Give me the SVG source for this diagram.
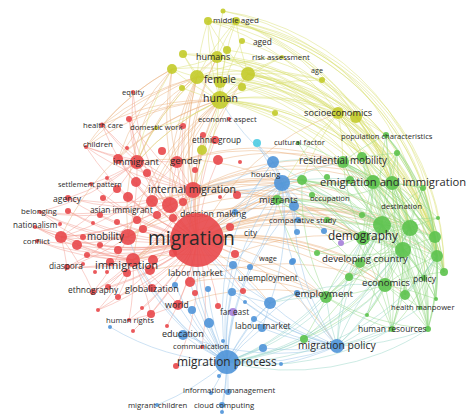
<svg xmlns="http://www.w3.org/2000/svg" width="474" height="414" viewBox="0 0 474 414">
<style>
#connectors path{fill:none;stroke-width:.85;stroke-opacity:.55}
.er path{stroke:#f29a8e}
.eo path{stroke:#eab07c}
.ey path{stroke:#d9df6e}
.eg path{stroke:#94d884}
.eb path{stroke:#92c0e8}
.et path{stroke:#93d4c4}
.nr{fill:#e8474a;fill-opacity:.9}
.ny{fill:#c3cb2a;fill-opacity:.9}
.ng{fill:#5cc24c;fill-opacity:.9}
.nb{fill:#4f94d8;fill-opacity:.9}
.np{fill:#a580da;fill-opacity:.9}
.nc{fill:#4ccbe2;fill-opacity:.9}
text{font-family:"Open Sans","Noto Sans","Liberation Sans",sans-serif;fill:#2a2a2a}
</style>
<rect width="474" height="414" fill="#fff"/>
<g id="connectors">
<g class="er">
<path d="M197 240A250 250 0 0 1 137 162"/><path d="M197 240A250 250 0 0 1 177 162"/><path d="M197 240A250 250 0 0 1 193 190"/><path d="M197 240A250 250 0 0 1 133 260"/><path d="M197 240A250 250 0 0 1 170 205"/><path d="M197 240A250 250 0 0 1 152 201"/><path d="M197 240A250 250 0 0 1 128 237"/><path d="M197 240A250 250 0 0 1 61 237"/><path d="M197 240A250 250 0 0 1 77 245"/><path d="M197 240A250 250 0 0 1 118 159"/><path d="M197 240A250 250 0 0 1 218 160"/><path d="M197 240A250 250 0 0 1 147 173"/><path d="M197 240A250 250 0 0 1 136 182"/><path d="M197 240A250 250 0 0 1 128 197"/><path d="M197 240A250 250 0 0 1 103 198"/><path d="M197 240A250 250 0 0 1 68 211"/><path d="M197 240A250 250 0 0 1 100 215"/><path d="M197 240A250 250 0 0 1 137 220"/><path d="M197 240A250 250 0 0 1 143 229"/><path d="M197 240A250 250 0 0 1 100 245"/><path d="M197 240A250 250 0 0 1 118 250"/><path d="M197 240A250 250 0 0 1 87 255"/><path d="M197 240A250 250 0 0 1 67 267"/><path d="M197 240A250 250 0 0 1 110 262"/><path d="M197 240A250 250 0 0 1 127 273"/><path d="M197 240A250 250 0 0 1 150 270"/><path d="M197 240A250 250 0 0 1 93 292"/><path d="M197 240A250 250 0 0 1 108 287"/><path d="M197 240A250 250 0 0 1 152 288"/><path d="M197 240A250 250 0 0 1 190 282"/><path d="M197 240A250 250 0 0 1 178 305"/><path d="M197 240A250 250 0 0 1 151 314"/><path d="M197 240A250 250 0 0 1 98 310"/><path d="M197 240A250 250 0 0 1 129 320"/><path d="M197 240A250 250 0 0 1 133 92"/><path d="M197 240A250 250 0 0 1 129 119"/><path d="M197 240A250 250 0 0 1 102 125"/><path d="M197 240A250 250 0 0 1 86 147"/><path d="M197 240A250 250 0 0 1 40 212"/><path d="M197 240A250 250 0 0 1 35 227"/><path d="M197 240A250 250 0 0 1 37 241"/><path d="M197 240A250 250 0 0 1 68 198"/><path d="M197 240A250 250 0 0 1 91 184"/><path d="M197 240A250 250 0 0 1 107 178"/><path d="M197 240A250 250 0 0 1 183 126"/><path d="M197 240A250 250 0 0 1 203 135"/><path d="M197 240A250 250 0 0 1 215 140"/><path d="M197 240A250 250 0 0 1 118 297"/><path d="M197 240A250 250 0 0 1 142 308"/><path d="M197 240A250 250 0 0 1 167 326"/><path d="M197 240A250 250 0 0 1 133 331"/><path d="M197 240A250 250 0 0 1 218 306"/><path d="M197 240A250 250 0 0 1 243 291"/><path d="M197 240A250 250 0 0 1 235 254"/><path d="M197 240A250 250 0 0 1 176 366"/><path d="M197 240A250 250 0 0 1 202 347"/>
<path d="M193 190A250 250 0 0 1 137 162"/><path d="M193 190A250 250 0 0 1 177 162"/><path d="M193 190A250 250 0 0 1 118 159"/><path d="M193 190A250 250 0 0 1 61 237"/><path d="M193 190A250 250 0 0 1 128 237"/><path d="M193 190A250 250 0 0 1 133 260"/><path d="M193 190A250 250 0 0 1 86 147"/><path d="M193 190A250 250 0 0 1 68 198"/><path d="M193 190A250 250 0 0 1 102 125"/><path d="M193 190A250 250 0 0 1 129 119"/><path d="M193 190A250 250 0 0 1 40 212"/><path d="M193 190A250 250 0 0 1 150 270"/><path d="M193 190A250 250 0 0 1 93 292"/>
<path d="M133 260A250 250 0 0 1 61 237"/><path d="M133 260A250 250 0 0 1 67 267"/><path d="M133 260A250 250 0 0 1 93 292"/><path d="M133 260A250 250 0 0 1 108 287"/><path d="M133 260A250 250 0 0 1 152 288"/><path d="M133 260A250 250 0 0 1 178 305"/><path d="M133 260A250 250 0 0 1 151 314"/><path d="M133 260A250 250 0 0 1 98 310"/><path d="M133 260A250 250 0 0 1 129 320"/><path d="M133 260A250 250 0 0 1 40 212"/><path d="M133 260A250 250 0 0 1 87 255"/><path d="M133 260A250 250 0 0 1 77 245"/><path d="M133 260A250 250 0 0 1 118 297"/><path d="M133 260A250 250 0 0 1 35 227"/><path d="M133 260A250 250 0 0 1 37 241"/>
<path d="M137 162A250 250 0 0 1 86 147"/><path d="M137 162A250 250 0 0 1 102 125"/><path d="M137 162A250 250 0 0 1 129 119"/><path d="M137 162A250 250 0 0 1 133 92"/><path d="M137 162A250 250 0 0 1 91 184"/><path d="M137 162A250 250 0 0 1 61 237"/><path d="M137 162A250 250 0 0 1 68 198"/><path d="M137 162A250 250 0 0 1 40 212"/><path d="M137 162A250 250 0 0 1 128 237"/>
<path d="M128 237A250 250 0 0 1 61 237"/><path d="M128 237A250 250 0 0 1 37 241"/><path d="M128 237A250 250 0 0 1 35 227"/><path d="M128 237A250 250 0 0 1 68 211"/><path d="M128 237A250 250 0 0 1 67 267"/><path d="M128 237A250 250 0 0 1 40 212"/><path d="M128 237A250 250 0 0 1 93 292"/>
<path d="M170 205A250 250 0 0 1 61 237"/><path d="M170 205A250 250 0 0 1 118 159"/><path d="M170 205A250 250 0 0 1 137 162"/><path d="M170 205A250 250 0 0 1 177 162"/><path d="M170 205A250 250 0 0 1 68 198"/>
<path d="M61 237A250 250 0 0 1 35 227"/><path d="M61 237A250 250 0 0 1 67 267"/><path d="M61 237A250 250 0 0 1 93 292"/><path d="M177 162A250 250 0 0 1 86 147"/><path d="M177 162A250 250 0 0 1 61 237"/><path d="M152 201A250 250 0 0 1 40 212"/><path d="M152 201A250 250 0 0 1 67 267"/><path d="M150 270A250 250 0 0 1 98 310"/><path d="M178 305A250 250 0 0 1 129 320"/>
</g>
<g class="eo">
<path d="M197 240A250 250 0 0 1 282 183"/><path d="M197 240A250 250 0 0 1 277 200"/><path d="M197 240A250 250 0 0 1 363 238"/><path d="M197 240A250 250 0 0 1 382 225"/><path d="M197 240A250 250 0 0 1 302 180"/><path d="M197 240A250 250 0 0 1 373 182"/><path d="M197 240A250 250 0 0 1 343 162"/><path d="M197 240A250 250 0 0 1 326 297"/><path d="M197 240A250 250 0 0 1 385 285"/><path d="M197 240A250 250 0 0 1 403 250"/><path d="M197 240A250 250 0 0 1 337 346"/><path d="M197 240A250 250 0 0 1 270 303"/><path d="M197 240A250 250 0 0 1 360 263"/><path d="M197 240A250 250 0 0 1 410 228"/><path d="M197 240A250 250 0 0 1 392 183"/><path d="M197 240A250 250 0 0 1 338 113"/><path d="M197 240A250 250 0 0 1 435 237"/><path d="M197 240A250 250 0 0 1 437 256"/><path d="M197 240A250 250 0 0 1 405 295"/><path d="M197 240A250 250 0 0 1 349 277"/><path d="M197 240A250 250 0 0 1 317 253"/><path d="M197 240A250 250 0 0 1 327 220"/><path d="M197 240A250 250 0 0 1 362 215"/>
<path d="M193 190A250 250 0 0 1 282 183"/><path d="M193 190A250 250 0 0 1 302 180"/><path d="M193 190A250 250 0 0 1 343 162"/><path d="M193 190A250 250 0 0 1 373 182"/><path d="M193 190A250 250 0 0 1 382 225"/><path d="M193 190A250 250 0 0 1 363 238"/><path d="M193 190A250 250 0 0 1 392 183"/><path d="M193 190A250 250 0 0 1 277 200"/><path d="M193 190A250 250 0 0 1 410 228"/>
<path d="M133 260A250 250 0 0 1 277 200"/><path d="M133 260A250 250 0 0 1 363 238"/><path d="M133 260A250 250 0 0 1 326 297"/><path d="M133 260A250 250 0 0 1 382 225"/><path d="M133 260A250 250 0 0 1 385 285"/><path d="M128 237A250 250 0 0 1 282 183"/><path d="M128 237A250 250 0 0 1 363 238"/><path d="M128 237A250 250 0 0 1 382 225"/><path d="M170 205A250 250 0 0 1 382 225"/><path d="M170 205A250 250 0 0 1 302 180"/><path d="M152 201A250 250 0 0 1 363 238"/><path d="M137 162A250 250 0 0 1 282 183"/><path d="M177 162A250 250 0 0 1 373 182"/><path d="M177 162A250 250 0 0 1 343 162"/><path d="M150 270A250 250 0 0 1 326 297"/><path d="M190 282A250 250 0 0 1 326 297"/><path d="M190 282A250 250 0 0 1 385 285"/><path d="M178 305A250 250 0 0 1 326 297"/><path d="M235 254A250 250 0 0 1 363 238"/><path d="M218 160A250 250 0 0 1 343 162"/>
<path d="M197 240A250 250 0 0 1 220 100"/><path d="M197 240A250 250 0 0 1 197 77"/><path d="M197 240A250 250 0 0 1 248 74"/><path d="M197 240A250 250 0 0 1 217 57"/><path d="M197 240A250 250 0 0 1 172 69"/><path d="M197 240A250 250 0 0 1 202 150"/><path d="M193 190A250 250 0 0 1 220 100"/><path d="M193 190A250 250 0 0 1 197 77"/><path d="M193 190A250 250 0 0 1 217 57"/><path d="M137 162A250 250 0 0 1 220 100"/><path d="M137 162A250 250 0 0 1 197 77"/><path d="M61 237A250 250 0 0 1 220 100"/><path d="M172 69A250 250 0 0 0 128 237"/><path d="M128 119A250 250 0 0 1 197 77"/>
<path d="M220 100A250 250 0 0 0 177 162"/><path d="M220 100A250 250 0 0 0 118 159"/><path d="M220 100A250 250 0 0 0 128 237"/><path d="M220 100A250 250 0 0 0 170 205"/><path d="M220 100A250 250 0 0 0 152 201"/><path d="M220 100A250 250 0 0 0 133 260"/><path d="M220 100A250 250 0 0 0 86 147"/><path d="M220 100A250 250 0 0 0 129 119"/><path d="M220 100A250 250 0 0 0 102 125"/><path d="M197 77A250 250 0 0 0 177 162"/><path d="M197 77A250 250 0 0 0 118 159"/><path d="M197 77A250 250 0 0 0 170 205"/><path d="M197 77A250 250 0 0 0 193 190"/><path d="M197 77A250 250 0 0 0 86 147"/><path d="M197 77A250 250 0 0 0 102 125"/><path d="M172 69A250 250 0 0 0 118 159"/><path d="M172 69A250 250 0 0 0 86 147"/><path d="M172 69A250 250 0 0 0 102 125"/><path d="M172 69A250 250 0 0 0 177 162"/><path d="M217 57A250 250 0 0 0 137 162"/><path d="M248 74A250 250 0 0 0 193 190"/>
</g>
<g class="ey">
<path d="M220 100A250 250 0 0 1 197 77"/><path d="M220 100A250 250 0 0 1 217 57"/><path d="M220 100A250 250 0 0 1 220 82"/><path d="M220 100A250 250 0 0 1 248 74"/><path d="M220 100A250 250 0 0 1 242 87"/><path d="M220 100A250 250 0 0 1 172 69"/><path d="M220 100A250 250 0 0 1 183 54"/><path d="M220 100A250 250 0 0 1 182 88"/><path d="M220 100A250 250 0 0 1 208 21"/><path d="M220 100A250 250 0 0 1 236 21"/><path d="M220 100A250 250 0 0 1 223 11"/><path d="M220 100A250 250 0 0 1 227 50"/><path d="M220 100A250 250 0 0 1 242 41"/><path d="M220 100A250 250 0 0 1 282 57"/><path d="M220 100A250 250 0 0 1 322 80"/><path d="M220 100A250 250 0 0 1 275 113"/><path d="M220 100A250 250 0 0 1 338 113"/><path d="M220 100A250 250 0 0 1 356 117"/><path d="M220 100A250 250 0 0 1 202 150"/><path d="M220 100A250 250 0 0 1 156 128"/><path d="M220 100A250 250 0 0 0 137 162"/><path d="M220 100A250 250 0 0 1 193 190"/>
<path d="M220 100A250 250 0 0 1 373 182"/><path d="M220 100A250 250 0 0 1 392 183"/><path d="M220 100A250 250 0 0 1 382 225"/><path d="M220 100A250 250 0 0 1 343 162"/><path d="M220 100A250 250 0 0 1 410 228"/><path d="M220 100A250 250 0 0 1 435 237"/><path d="M220 100A250 250 0 0 1 437 256"/>
<path d="M197 77A250 250 0 0 1 208 21"/><path d="M197 77A250 250 0 0 1 236 21"/><path d="M197 77A250 250 0 0 1 172 69"/><path d="M197 77A250 250 0 0 1 183 54"/><path d="M197 77A250 250 0 0 1 338 113"/><path d="M197 77A250 250 0 0 1 322 80"/><path d="M197 77A250 250 0 0 1 282 57"/><path d="M197 77A250 250 0 0 1 392 183"/><path d="M197 77A250 250 0 0 1 410 228"/><path d="M197 77A250 250 0 0 1 435 237"/><path d="M197 77A250 250 0 0 1 437 256"/><path d="M197 77A250 250 0 0 0 137 162"/><path d="M197 77A250 250 0 0 1 248 74"/><path d="M197 77A250 250 0 0 1 217 57"/><path d="M197 77A250 250 0 0 1 444 272"/>
<path d="M248 74A250 250 0 0 1 208 21"/><path d="M248 74A250 250 0 0 1 236 21"/><path d="M248 74A250 250 0 0 1 338 113"/><path d="M248 74A250 250 0 0 1 356 117"/><path d="M248 74A250 250 0 0 1 373 182"/><path d="M248 74A250 250 0 0 1 435 237"/><path d="M248 74A250 250 0 0 1 444 272"/><path d="M248 74A250 250 0 0 1 386 135"/><path d="M248 74A250 250 0 0 1 322 80"/><path d="M248 74A250 250 0 0 1 282 57"/><path d="M248 74A250 250 0 0 1 437 256"/>
<path d="M217 57A250 250 0 0 1 338 113"/><path d="M217 57A250 250 0 0 1 392 183"/><path d="M217 57A250 250 0 0 1 403 250"/><path d="M217 57A250 250 0 0 1 172 69"/><path d="M217 57A250 250 0 0 1 236 21"/><path d="M217 57A250 250 0 0 1 208 21"/><path d="M217 57A250 250 0 0 1 356 117"/><path d="M217 57A250 250 0 0 1 437 256"/>
<path d="M208 21A250 250 0 0 1 437 256"/><path d="M208 21A250 250 0 0 1 444 272"/><path d="M208 21A250 250 0 0 1 338 113"/><path d="M208 21A250 250 0 0 1 410 228"/><path d="M208 21A250 250 0 0 1 435 237"/><path d="M236 21A250 250 0 0 1 435 237"/><path d="M236 21A250 250 0 0 1 356 117"/><path d="M236 21A250 250 0 0 1 392 183"/><path d="M236 21A250 250 0 0 1 322 80"/><path d="M236 21A250 250 0 0 1 444 272"/><path d="M223 11A250 250 0 0 1 424 278"/><path d="M223 11A250 250 0 0 1 437 256"/><path d="M183 54A250 250 0 0 1 403 250"/><path d="M183 54A250 250 0 0 1 437 256"/><path d="M172 69A250 250 0 0 1 435 237"/><path d="M227 50A250 250 0 0 1 444 272"/><path d="M242 41A250 250 0 0 1 410 228"/><path d="M220 82A250 250 0 0 1 410 228"/><path d="M242 87A250 250 0 0 1 403 250"/>
<path d="M338 113A250 250 0 0 1 392 183"/><path d="M338 113A250 250 0 0 1 373 182"/><path d="M338 113A250 250 0 0 1 343 162"/><path d="M338 113A250 250 0 0 1 382 225"/><path d="M338 113A250 250 0 0 1 410 228"/><path d="M338 113A250 250 0 0 1 437 256"/><path d="M338 113A250 250 0 0 1 444 272"/><path d="M338 113A250 250 0 0 0 302 180"/><path d="M338 113A250 250 0 0 0 277 200"/>
<path d="M356 117A250 250 0 0 1 392 183"/><path d="M356 117A250 250 0 0 1 410 228"/><path d="M356 117A250 250 0 0 1 435 237"/><path d="M356 117A250 250 0 0 1 403 250"/><path d="M356 117A250 250 0 0 1 386 135"/>
<path d="M322 80A250 250 0 0 1 410 228"/><path d="M322 80A250 250 0 0 1 437 256"/><path d="M322 80A250 250 0 0 1 392 183"/><path d="M172 69A250 250 0 0 0 137 162"/>
</g>
<g class="eg">
<path d="M382 225A250 250 0 0 1 410 228"/><path d="M382 225A250 250 0 0 1 403 250"/><path d="M382 225A250 250 0 0 1 363 238"/><path d="M382 225A250 250 0 0 1 435 237"/><path d="M382 225A250 250 0 0 1 437 256"/><path d="M382 225A250 250 0 0 1 373 182"/><path d="M382 225A250 250 0 0 1 392 183"/><path d="M382 225A250 250 0 0 1 343 162"/><path d="M382 225A250 250 0 0 1 362 157"/><path d="M382 225A250 250 0 0 1 302 180"/><path d="M382 225A250 250 0 0 1 277 200"/><path d="M382 225A250 250 0 0 1 360 263"/><path d="M382 225A250 250 0 0 1 385 285"/><path d="M382 225A250 250 0 0 1 326 297"/><path d="M382 225A250 250 0 0 1 405 295"/><path d="M382 225A250 250 0 0 1 349 277"/><path d="M382 225A250 250 0 0 1 444 272"/><path d="M382 225A250 250 0 0 1 424 278"/><path d="M382 225A250 250 0 0 1 397 153"/><path d="M382 225A250 250 0 0 1 386 135"/><path d="M382 225A250 250 0 0 1 327 177"/><path d="M382 225A250 250 0 0 1 350 180"/><path d="M382 225A250 250 0 0 1 423 188"/><path d="M382 225A250 250 0 0 1 312 195"/><path d="M382 225A250 250 0 0 1 362 215"/><path d="M382 225A250 250 0 0 1 438 218"/><path d="M382 225A250 250 0 0 1 327 220"/><path d="M382 225A250 250 0 0 1 317 253"/><path d="M382 225A250 250 0 0 1 298 143"/><path d="M382 225A250 250 0 0 1 436 299"/><path d="M382 225A250 250 0 0 1 420 308"/><path d="M382 225A250 250 0 0 1 367 315"/><path d="M382 225A250 250 0 0 1 392 329"/><path d="M382 225A250 250 0 0 1 428 329"/><path d="M382 225A250 250 0 0 1 304 339"/>
<path d="M392 183A250 250 0 0 1 343 162"/><path d="M392 183A250 250 0 0 1 373 182"/><path d="M392 183A250 250 0 0 1 410 228"/><path d="M392 183A250 250 0 0 1 435 237"/><path d="M392 183A250 250 0 0 1 437 256"/><path d="M392 183A250 250 0 0 1 403 250"/><path d="M392 183A250 250 0 0 1 385 285"/><path d="M392 183A250 250 0 0 1 444 272"/><path d="M392 183A250 250 0 0 1 302 180"/><path d="M392 183A250 250 0 0 1 277 200"/><path d="M392 183A250 250 0 0 1 423 188"/><path d="M392 183A250 250 0 0 1 397 153"/><path d="M392 183A250 250 0 0 1 386 135"/><path d="M392 183A250 250 0 0 1 428 329"/><path d="M392 183A250 250 0 0 1 392 329"/><path d="M392 183A250 250 0 0 1 362 157"/><path d="M392 183A250 250 0 0 1 438 218"/>
<path d="M385 285A250 250 0 0 1 392 329"/><path d="M385 285A250 250 0 0 1 428 329"/><path d="M385 285A250 250 0 0 1 420 308"/><path d="M385 285A250 250 0 0 1 436 299"/><path d="M385 285A250 250 0 0 1 444 272"/><path d="M385 285A250 250 0 0 1 326 297"/><path d="M385 285A250 250 0 0 1 304 339"/><path d="M385 285A250 250 0 0 1 367 315"/><path d="M385 285A250 250 0 0 1 410 228"/><path d="M385 285A250 250 0 0 1 437 256"/><path d="M385 285A250 250 0 0 1 363 238"/><path d="M385 285A250 250 0 0 1 403 250"/><path d="M385 285A250 250 0 0 1 349 277"/>
<path d="M326 297A250 250 0 0 1 304 339"/><path d="M392 329A250 250 0 0 1 326 297"/><path d="M428 329A250 250 0 0 1 326 297"/><path d="M326 297A250 250 0 0 1 277 200"/><path d="M326 297A250 250 0 0 1 302 180"/><path d="M326 297A250 250 0 0 1 363 238"/><path d="M326 297A250 250 0 0 1 403 250"/><path d="M326 297A250 250 0 0 1 349 277"/>
<path d="M363 238A250 250 0 0 1 302 180"/><path d="M363 238A250 250 0 0 1 343 162"/><path d="M363 238A250 250 0 0 1 373 182"/><path d="M363 238A250 250 0 0 1 403 250"/><path d="M363 238A250 250 0 0 1 437 256"/><path d="M363 238A250 250 0 0 1 410 228"/><path d="M363 238A250 250 0 0 1 428 329"/><path d="M363 238A250 250 0 0 1 277 200"/>
<path d="M343 162A250 250 0 0 1 410 228"/><path d="M343 162A250 250 0 0 1 435 237"/><path d="M343 162A250 250 0 0 1 437 256"/><path d="M343 162A250 250 0 0 1 403 250"/><path d="M343 162A220 220 0 0 1 428 329"/><path d="M343 162A250 250 0 0 1 386 135"/><path d="M343 162A250 250 0 0 1 397 153"/>
<path d="M302 180A250 250 0 0 1 437 256"/><path d="M302 180A220 220 0 0 1 428 329"/><path d="M302 180A250 250 0 0 1 392 329"/><path d="M302 180A250 250 0 0 1 410 228"/><path d="M386 135A200 200 0 0 1 428 329"/><path d="M386 135A250 250 0 0 1 444 272"/><path d="M386 135A250 250 0 0 1 437 256"/><path d="M277 200A250 250 0 0 1 403 250"/><path d="M277 200A250 250 0 0 1 410 228"/><path d="M277 200A250 250 0 0 1 437 256"/><path d="M277 200A250 250 0 0 1 392 329"/><path d="M298 143A200 200 0 0 1 436 299"/><path d="M327 177A200 200 0 0 1 420 308"/>
<path d="M410 228A250 250 0 0 1 373 182"/><path d="M410 228A250 250 0 0 1 343 162"/><path d="M410 228A250 250 0 0 1 302 180"/><path d="M410 228A250 250 0 0 1 435 237"/><path d="M410 228A250 250 0 0 1 437 256"/><path d="M410 228A250 250 0 0 1 444 272"/><path d="M410 228A250 250 0 0 1 405 295"/><path d="M410 228A250 250 0 0 1 360 263"/><path d="M410 228A250 250 0 0 1 349 277"/><path d="M410 228A250 250 0 0 1 326 297"/><path d="M410 228A250 250 0 0 1 423 188"/><path d="M410 228A250 250 0 0 1 438 218"/><path d="M410 228A250 250 0 0 1 397 153"/><path d="M410 228A250 250 0 0 1 386 135"/><path d="M410 228A250 250 0 0 1 362 157"/><path d="M410 228A250 250 0 0 1 420 308"/><path d="M410 228A250 250 0 0 1 436 299"/><path d="M410 228A250 250 0 0 1 428 329"/><path d="M410 228A250 250 0 0 1 392 329"/><path d="M410 228A250 250 0 0 1 304 339"/>
<path d="M403 250A250 250 0 0 1 373 182"/><path d="M403 250A250 250 0 0 1 343 162"/><path d="M403 250A250 250 0 0 1 302 180"/><path d="M403 250A250 250 0 0 1 435 237"/><path d="M403 250A250 250 0 0 1 444 272"/><path d="M403 250A250 250 0 0 1 405 295"/><path d="M403 250A250 250 0 0 1 424 278"/><path d="M403 250A250 250 0 0 1 360 263"/><path d="M403 250A250 250 0 0 1 349 277"/><path d="M403 250A250 250 0 0 1 423 188"/><path d="M403 250A250 250 0 0 1 392 183"/><path d="M403 250A250 250 0 0 1 362 157"/><path d="M403 250A250 250 0 0 1 436 299"/><path d="M403 250A250 250 0 0 1 420 308"/><path d="M403 250A250 250 0 0 1 428 329"/><path d="M403 250A250 250 0 0 1 392 329"/><path d="M403 250A250 250 0 0 1 367 315"/><path d="M403 250A250 250 0 0 1 317 253"/><path d="M403 250A250 250 0 0 1 327 220"/>
<path d="M373 182A250 250 0 0 1 435 237"/><path d="M343 162A250 250 0 0 1 435 237"/><path d="M435 237A250 250 0 0 1 437 256"/><path d="M435 237A250 250 0 0 1 444 272"/><path d="M435 237A250 250 0 0 1 405 295"/><path d="M435 237A250 250 0 0 1 424 278"/><path d="M423 188A250 250 0 0 1 435 237"/><path d="M386 135A250 250 0 0 1 435 237"/><path d="M397 153A250 250 0 0 1 435 237"/><path d="M435 237A250 250 0 0 1 436 299"/><path d="M435 237A250 250 0 0 1 428 329"/><path d="M362 157A250 250 0 0 1 435 237"/>
<path d="M373 182A250 250 0 0 1 437 256"/><path d="M437 256A250 250 0 0 1 405 295"/><path d="M437 256A250 250 0 0 1 424 278"/><path d="M437 256A250 250 0 0 1 436 299"/><path d="M437 256A250 250 0 0 1 428 329"/><path d="M437 256A250 250 0 0 1 420 308"/><path d="M437 256A250 250 0 0 1 392 329"/><path d="M423 188A250 250 0 0 1 437 256"/>
<path d="M373 182A250 250 0 0 1 343 162"/><path d="M373 182A250 250 0 0 1 302 180"/><path d="M373 182A250 250 0 0 1 362 157"/><path d="M373 182A250 250 0 0 1 397 153"/><path d="M373 182A250 250 0 0 1 423 188"/><path d="M373 182A250 250 0 0 1 444 272"/><path d="M373 182A250 250 0 0 1 405 295"/><path d="M373 182A250 250 0 0 1 360 263"/><path d="M373 182A250 250 0 0 1 349 277"/><path d="M373 182A220 220 0 0 1 428 329"/>
</g>
<g class="eb">
<path d="M227 362A250 250 0 0 1 183 335"/><path d="M227 362A250 250 0 0 1 209 323"/><path d="M227 362A250 250 0 0 1 192 310"/><path d="M227 362A250 250 0 0 1 263 348"/><path d="M227 362A250 250 0 0 1 262 328"/><path d="M227 362A250 250 0 0 1 254 319"/><path d="M227 362A250 250 0 0 1 219 376"/><path d="M227 362A250 250 0 0 1 211 393"/><path d="M227 362A250 250 0 0 1 228 392"/><path d="M227 362A250 250 0 0 1 157 405"/><path d="M227 362A250 250 0 0 1 222 405"/><path d="M227 362A250 250 0 0 1 222 412"/><path d="M227 362A250 250 0 0 1 281 364"/><path d="M337 346A250 250 0 0 1 227 362"/><path d="M227 362A250 250 0 0 1 270 303"/><path d="M227 362A250 250 0 0 1 232 292"/><path d="M227 362A250 250 0 0 1 282 183"/><path d="M227 362A250 250 0 0 1 273 162"/><path d="M227 362A250 250 0 0 1 294 206"/><path d="M227 362A250 250 0 0 1 223 341"/><path d="M227 362A250 250 0 0 1 202 347"/><path d="M227 362A250 250 0 0 1 176 366"/><path d="M227 362A250 250 0 0 1 175 285"/><path d="M227 362A250 250 0 0 1 208 289"/><path d="M227 362A250 250 0 0 1 110 327"/><path d="M227 362A250 250 0 0 1 233 312"/><path d="M227 362A250 250 0 0 1 250 267"/><path d="M227 362A250 250 0 0 1 233 265"/><path d="M227 362A250 250 0 0 1 297 293"/>
<path d="M227 362A250 250 0 0 1 197 240"/><path d="M227 362A250 250 0 0 1 193 190"/><path d="M227 362A250 250 0 0 1 133 260"/><path d="M227 362A250 250 0 0 1 128 237"/><path d="M227 362A250 250 0 0 1 178 305"/><path d="M227 362A250 250 0 0 1 190 282"/><path d="M227 362A250 250 0 0 1 152 288"/>
<path d="M337 346A250 250 0 0 1 270 303"/><path d="M337 346A250 250 0 0 1 263 348"/><path d="M337 346A250 250 0 0 1 262 328"/><path d="M337 346A250 250 0 0 1 281 364"/><path d="M337 346A250 250 0 0 1 297 293"/><path d="M337 346A250 250 0 0 1 282 183"/><path d="M337 346A250 250 0 0 1 294 206"/><path d="M337 346A250 250 0 0 1 232 292"/><path d="M337 346A250 250 0 0 1 183 335"/><path d="M337 346A250 250 0 0 1 254 319"/><path d="M337 346A250 250 0 0 1 245 302"/><path d="M337 346A250 250 0 0 1 197 240"/>
<path d="M282 183A250 250 0 0 1 273 162"/><path d="M282 183A250 250 0 0 1 294 206"/><path d="M282 183A250 250 0 0 1 257 143"/><path d="M282 183A250 250 0 0 1 298 220"/><path d="M282 183A250 250 0 0 1 297 232"/><path d="M282 183A250 250 0 0 1 324 231"/><path d="M282 183A250 250 0 0 1 233 265"/><path d="M282 183A250 250 0 0 1 235 212"/><path d="M282 183A250 250 0 0 1 270 303"/><path d="M282 183A250 250 0 0 1 250 267"/><path d="M282 183A250 250 0 0 1 197 240"/><path d="M282 183A250 250 0 0 1 193 190"/><path d="M282 183A250 250 0 0 1 237 195"/>
<path d="M273 162A250 250 0 0 1 257 143"/><path d="M273 162A250 250 0 0 1 294 206"/><path d="M273 162A250 250 0 0 1 197 240"/><path d="M273 162A250 250 0 0 1 193 190"/><path d="M273 162A250 250 0 0 1 220 100"/>
<path d="M270 303A250 250 0 0 1 233 265"/><path d="M270 303A250 250 0 0 1 232 292"/><path d="M270 303A250 250 0 0 1 254 319"/><path d="M270 303A250 250 0 0 1 262 328"/><path d="M270 303A250 250 0 0 1 297 293"/><path d="M270 303A250 250 0 0 1 197 240"/>
</g>
<g class="et">
<path d="M304 339A250 250 0 0 1 227 362"/><path d="M326 297A250 250 0 0 1 227 362"/><path d="M385 285A250 250 0 0 1 227 362"/><path d="M382 225A250 250 0 0 1 227 362"/><path d="M403 250A250 250 0 0 1 227 362"/><path d="M437 256A250 250 0 0 1 227 362"/><path d="M392 329A250 250 0 0 1 227 362"/><path d="M428 329A250 250 0 0 1 227 362"/><path d="M363 238A250 250 0 0 1 227 362"/><path d="M410 228A250 250 0 0 1 227 362"/>
<path d="M337 346A250 250 0 0 1 326 297"/><path d="M385 285A250 250 0 0 1 337 346"/><path d="M392 329A250 250 0 0 1 337 346"/><path d="M428 329A250 250 0 0 1 337 346"/><path d="M337 346A250 250 0 0 1 363 238"/><path d="M337 346A250 250 0 0 1 382 225"/><path d="M337 346A250 250 0 0 1 403 250"/><path d="M437 256A250 250 0 0 1 337 346"/><path d="M420 308A250 250 0 0 1 337 346"/><path d="M367 315A250 250 0 0 1 337 346"/>
<path d="M282 183A250 250 0 0 1 363 238"/><path d="M282 183A250 250 0 0 1 382 225"/><path d="M282 183A250 250 0 0 1 302 180"/><path d="M282 183A250 250 0 0 1 343 162"/><path d="M282 183A250 250 0 0 1 277 200"/><path d="M282 183A250 250 0 0 1 373 182"/><path d="M273 162A250 250 0 0 1 343 162"/><path d="M273 162A250 250 0 0 1 302 180"/><path d="M270 303A250 250 0 0 1 326 297"/><path d="M270 303A250 250 0 0 1 385 285"/>
</g>
</g>
<g id="nodes">
<g id="n-minor">
<circle class="nr" cx="128" cy="237" r="8"/><circle class="nr" cx="170" cy="205" r="8"/><circle class="nr" cx="152" cy="201" r="6"/><circle class="nr" cx="61" cy="237" r="6"/><circle class="nr" cx="77" cy="245" r="5"/><circle class="nr" cx="118" cy="159" r="5"/><circle class="nr" cx="162" cy="151" r="4"/><circle class="nr" cx="218" cy="160" r="5"/><circle class="nr" cx="147" cy="173" r="4"/><circle class="nr" cx="136" cy="182" r="5"/><circle class="nr" cx="117" cy="189" r="4"/><circle class="nr" cx="128" cy="197" r="5"/><circle class="nr" cx="103" cy="198" r="3"/><circle class="nr" cx="68" cy="211" r="3"/><circle class="nr" cx="100" cy="215" r="3"/><circle class="nr" cx="117" cy="222" r="3"/><circle class="nr" cx="157" cy="215" r="4"/><circle class="nr" cx="173" cy="218" r="4"/><circle class="nr" cx="60" cy="224" r="2"/><circle class="nr" cx="93" cy="223" r="2"/><circle class="nr" cx="143" cy="229" r="4"/><circle class="nr" cx="100" cy="245" r="3"/><circle class="nr" cx="118" cy="250" r="4"/><circle class="nr" cx="87" cy="255" r="3"/><circle class="nr" cx="83" cy="264" r="2"/><circle class="nr" cx="110" cy="262" r="4"/><circle class="nr" cx="153" cy="260" r="5"/><circle class="nr" cx="173" cy="253" r="4"/><circle class="nr" cx="230" cy="227" r="4"/><circle class="nr" cx="237" cy="195" r="4"/><circle class="nr" cx="235" cy="254" r="4"/><circle class="nr" cx="95" cy="272" r="2"/><circle class="nr" cx="107" cy="272" r="2"/><circle class="nr" cx="127" cy="273" r="4"/><circle class="nr" cx="150" cy="270" r="5"/><circle class="nr" cx="108" cy="287" r="3"/><circle class="nr" cx="118" cy="297" r="3"/><circle class="nr" cx="152" cy="288" r="4"/><circle class="nr" cx="195" cy="293" r="3"/><circle class="nr" cx="218" cy="306" r="3"/><circle class="nr" cx="98" cy="310" r="2"/><circle class="nr" cx="142" cy="308" r="2"/><circle class="nr" cx="151" cy="314" r="4"/><circle class="nr" cx="133" cy="331" r="2"/><circle class="nr" cx="167" cy="326" r="2"/><circle class="nr" cx="176" cy="366" r="3"/><circle class="nr" cx="243" cy="291" r="3"/><circle class="nr" cx="129" cy="119" r="3"/><circle class="nr" cx="183" cy="126" r="3"/><circle class="nr" cx="127" cy="148" r="2"/><circle class="nr" cx="107" cy="178" r="2"/><circle class="nr" cx="215" cy="140" r="4"/><circle class="nr" cx="240" cy="162" r="2"/><circle class="nr" cx="195" cy="170" r="3"/><circle class="nr" cx="220" cy="197" r="2"/>
<circle class="ny" cx="220" cy="82" r="6"/><circle class="ny" cx="248" cy="74" r="7"/><circle class="ny" cx="242" cy="87" r="4"/><circle class="ny" cx="172" cy="69" r="5"/><circle class="ny" cx="183" cy="54" r="4"/><circle class="ny" cx="182" cy="88" r="3"/><circle class="ny" cx="236" cy="21" r="4"/><circle class="ny" cx="223" cy="11" r="2.5"/><circle class="ny" cx="227" cy="50" r="4"/><circle class="ny" cx="275" cy="113" r="3"/><circle class="ny" cx="356" cy="117" r="6"/>
<circle class="ng" cx="410" cy="228" r="8"/><circle class="ng" cx="403" cy="250" r="8"/><circle class="ng" cx="382" cy="225" r="9"/><circle class="ng" cx="435" cy="237" r="6"/><circle class="ng" cx="437" cy="256" r="6"/><circle class="ng" cx="373" cy="182" r="7"/><circle class="ng" cx="392" cy="183" r="7"/><circle class="ng" cx="343" cy="162" r="6"/><circle class="ng" cx="362" cy="157" r="5"/><circle class="ng" cx="302" cy="180" r="5"/><circle class="ng" cx="360" cy="263" r="5"/><circle class="ng" cx="405" cy="295" r="5"/><circle class="ng" cx="349" cy="277" r="4"/><circle class="ng" cx="444" cy="272" r="4"/><circle class="ng" cx="397" cy="153" r="3"/><circle class="ng" cx="327" cy="177" r="3"/><circle class="ng" cx="350" cy="180" r="4"/><circle class="ng" cx="423" cy="188" r="3"/><circle class="ng" cx="438" cy="218" r="2"/><circle class="ng" cx="327" cy="220" r="3"/><circle class="ng" cx="317" cy="253" r="3"/><circle class="ng" cx="436" cy="299" r="2"/><circle class="ng" cx="367" cy="315" r="2"/><circle class="ng" cx="428" cy="329" r="3"/><circle class="ng" cx="304" cy="339" r="4"/>
<circle class="nb" cx="282" cy="183" r="8"/><circle class="nb" cx="273" cy="162" r="6"/><circle class="nb" cx="294" cy="206" r="5"/><circle class="nb" cx="298" cy="220" r="3"/><circle class="nb" cx="297" cy="232" r="3"/><circle class="nb" cx="324" cy="231" r="3"/><circle class="nb" cx="293" cy="261" r="3"/><circle class="nb" cx="250" cy="267" r="3"/><circle class="nb" cx="233" cy="265" r="4"/><circle class="nb" cx="235" cy="212" r="3"/><circle class="nb" cx="232" cy="292" r="4"/><circle class="nb" cx="245" cy="302" r="2"/><circle class="nb" cx="270" cy="303" r="6"/><circle class="nb" cx="297" cy="293" r="3"/><circle class="nb" cx="254" cy="319" r="3"/><circle class="nb" cx="263" cy="348" r="4"/><circle class="nb" cx="281" cy="364" r="2"/><circle class="nb" cx="209" cy="323" r="5"/><circle class="nb" cx="192" cy="310" r="4"/><circle class="nb" cx="175" cy="285" r="3"/><circle class="nb" cx="208" cy="289" r="3"/><circle class="nb" cx="223" cy="341" r="2"/><circle class="nb" cx="219" cy="376" r="2"/><circle class="nb" cx="222" cy="412" r="2"/><circle class="nb" cx="110" cy="327" r="2"/>
<circle class="np" cx="341" cy="243" r="3"/>
</g>
<g id="n-middle-aged"><circle class="ny" cx="208" cy="21" r="4"/><text x="213" y="23" font-size="8">middle aged</text></g>
<g id="n-aged"><circle class="ny" cx="242" cy="41" r="3"/><text x="253" y="45" font-size="8.3">aged</text></g>
<g id="n-risk-assessment"><circle class="ny" cx="282" cy="57" r="2"/><text x="252" y="59.5" font-size="7.8">risk assessment</text></g>
<g id="n-age"><circle class="ny" cx="322" cy="80" r="3"/><text x="311" y="73" font-size="7.2">age</text></g>
<g id="n-humans"><circle class="ny" cx="217" cy="57" r="6"/><text x="196" y="60" font-size="9">humans</text></g>
<g id="n-female"><circle class="ny" cx="197" cy="77" r="7"/><text x="204" y="83" font-size="10">female</text></g>
<g id="n-human"><circle class="ny" cx="220" cy="100" r="9"/><text x="203" y="102" font-size="10.5">human</text></g>
<g id="n-socioeconomics"><circle class="ny" cx="338" cy="113" r="6"/><text x="304" y="115.5" font-size="9.2">socioeconomics</text></g>
<g id="n-equity"><circle class="nr" cx="133" cy="92" r="2"/><text x="122" y="95" font-size="7.6">equity</text></g>
<g id="n-health-care"><circle class="nr" cx="102" cy="125" r="2.5"/><text x="83" y="127.5" font-size="7.7">health care</text></g>
<g id="n-domestic-work"><circle class="ny" cx="156" cy="128" r="2"/><text x="130" y="129.5" font-size="7.7">domestic work</text></g>
<g id="n-economic-aspect"><circle class="nr" cx="229" cy="119" r="2"/><text x="198" y="122" font-size="7.5">economic aspect</text></g>
<g id="n-children"><circle class="nr" cx="86" cy="147" r="2"/><text x="83" y="146.5" font-size="7.9">children</text></g>
<g id="n-ethnic-group"><circle class="ny" cx="202" cy="150" r="5"/><circle class="nr" cx="203" cy="135" r="3"/><text x="192" y="143" font-size="8.3">ethnic group</text></g>
<g id="n-cultural-factor"><circle class="nc" cx="257" cy="143" r="4"/><circle class="ng" cx="298" cy="143" r="2"/><text x="274" y="145" font-size="7.8">cultural factor</text></g>
<g id="n-population-characteristics"><circle class="ng" cx="386" cy="135" r="3"/><text x="341" y="138.5" font-size="7.6">population characteristics</text></g>
<g id="n-immigrant"><circle class="nr" cx="137" cy="162" r="7"/><text x="113" y="164.5" font-size="9.5">immigrant</text></g>
<g id="n-gender"><circle class="nr" cx="177" cy="162" r="6"/><text x="170" y="164" font-size="9.7">gender</text></g>
<g id="n-residential-mobility"><text x="299" y="163.5" font-size="9.9">residential mobility</text></g>
<g id="n-housing"><text x="251" y="176.5" font-size="7.9">housing</text></g>
<g id="n-settlement-pattern"><circle class="nr" cx="91" cy="184" r="2"/><text x="58" y="186.5" font-size="7.3">settlement pattern</text></g>
<g id="n-internal-migration"><circle class="nr" cx="193" cy="190" r="8"/><text x="148" y="193" font-size="10.5">internal migration</text></g>
<g id="n-emigration-and-immigration"><text x="320" y="186" font-size="11.2">emigration and immigration</text></g>
<g id="n-agency"><circle class="nr" cx="68" cy="198" r="3"/><text x="53" y="201.5" font-size="8.6">agency</text></g>
<g id="n-migrants"><circle class="ng" cx="277" cy="200" r="5"/><text x="259" y="203" font-size="9.4">migrants</text></g>
<g id="n-occupation"><circle class="ng" cx="312" cy="195" r="3"/><text x="310" y="200.5" font-size="7.7">occupation</text></g>
<g id="n-decision-making"><circle class="nr" cx="183" cy="202" r="4"/><text x="180" y="216.5" font-size="8.8">decision making</text></g>
<g id="n-destination"><circle class="ng" cx="362" cy="215" r="3"/><text x="381" y="208.5" font-size="7.8">destination</text></g>
<g id="n-belonging"><circle class="nr" cx="40" cy="212" r="2"/><text x="21" y="213.5" font-size="7.8">belonging</text></g>
<g id="n-asian-immigrant"><circle class="nr" cx="137" cy="220" r="4"/><text x="90" y="212.5" font-size="8.3">asian immigrant</text></g>
<g id="n-comparative-study"><text x="269" y="222.5" font-size="7.8">comparative study</text></g>
<g id="n-nationalism"><circle class="nr" cx="35" cy="227" r="2"/><text x="13" y="228" font-size="8.1">nationalism</text></g>
<g id="n-demography"><circle class="ng" cx="363" cy="238" r="7"/><text x="328" y="240" font-size="11.8">demography</text></g>
<g id="n-migration"><circle class="nr" cx="197" cy="240" r="27"/><text x="148" y="244.5" font-size="19.3">migration</text></g>
<g id="n-mobility"><circle class="nr" cx="83" cy="237" r="3"/><text x="87" y="239.5" font-size="9.9">mobility</text></g>
<g id="n-conflict"><circle class="nr" cx="37" cy="241" r="2"/><text x="23" y="244" font-size="8">conflict</text></g>
<g id="n-city"><text x="244" y="235.5" font-size="8.2">city</text></g>
<g id="n-wage"><circle class="nb" cx="292" cy="262" r="3"/><text x="259" y="260.5" font-size="7.4">wage</text></g>
<g id="n-developing-country"><text x="322" y="262" font-size="9.6">developing country</text></g>
<g id="n-diaspora"><circle class="nr" cx="67" cy="267" r="3"/><text x="49" y="269" font-size="8.3">diaspora</text></g>
<g id="n-immigration"><circle class="nr" cx="133" cy="260" r="7"/><text x="95" y="268.5" font-size="11.1">immigration</text></g>
<g id="n-labor-market"><circle class="nr" cx="190" cy="282" r="5"/><text x="168" y="276" font-size="9.1">labor market</text></g>
<g id="n-unemployment"><text x="238" y="280.5" font-size="8.4">unemployment</text></g>
<g id="n-economics"><circle class="ng" cx="385" cy="285" r="7"/><text x="362" y="286" font-size="9.6">economics</text></g>
<g id="n-policy"><circle class="ng" cx="424" cy="278" r="3"/><text x="413" y="281.5" font-size="8.5">policy</text></g>
<g id="n-globalization"><text x="125" y="292" font-size="9.1">globalization</text></g>
<g id="n-ethnography"><circle class="nr" cx="93" cy="292" r="3"/><text x="68" y="293" font-size="8.4">ethnography</text></g>
<g id="n-employment"><circle class="ng" cx="326" cy="297" r="6"/><text x="295" y="297" font-size="9.8">employment</text></g>
<g id="n-health-manpower"><circle class="ng" cx="420" cy="308" r="2"/><text x="391" y="310" font-size="7.7">health manpower</text></g>
<g id="n-world"><circle class="nr" cx="178" cy="305" r="5"/><text x="165" y="308" font-size="9">world</text></g>
<g id="n-far-east"><circle class="np" cx="233" cy="312" r="4"/><text x="220" y="315" font-size="8.3">far east</text></g>
<g id="n-human-rights"><circle class="nr" cx="129" cy="320" r="2"/><text x="106" y="322.5" font-size="7.7">human rights</text></g>
<g id="n-labour-market"><circle class="nb" cx="262" cy="328" r="4"/><text x="235" y="329" font-size="8.4">labour market</text></g>
<g id="n-human-resources"><circle class="ng" cx="392" cy="329" r="3"/><text x="358" y="331.5" font-size="8.4">human resources</text></g>
<g id="n-education"><circle class="nb" cx="183" cy="335" r="5"/><text x="162" y="337" font-size="9">education</text></g>
<g id="n-communication"><circle class="nr" cx="202" cy="347" r="2"/><text x="173" y="349" font-size="7.7">communication</text></g>
<g id="n-migration-policy"><circle class="nb" cx="337" cy="346" r="7"/><text x="298" y="349" font-size="10.4">migration policy</text></g>
<g id="n-migration-process"><circle class="nb" cx="227" cy="362" r="12"/><text x="177" y="366" font-size="11.9">migration process</text></g>
<g id="n-information-management"><circle class="nb" cx="211" cy="393" r="2"/><circle class="nb" cx="228" cy="392" r="3"/><text x="183" y="392.5" font-size="7.7">information management</text></g>
<g id="n-migrant-children"><circle class="nb" cx="157" cy="405" r="2"/><text x="128" y="407.5" font-size="7.7">migrant children</text></g>
<g id="n-cloud-computing"><circle class="nb" cx="222" cy="405" r="3"/><text x="194" y="407.5" font-size="7.7">cloud computing</text></g>
</g>
</svg>
